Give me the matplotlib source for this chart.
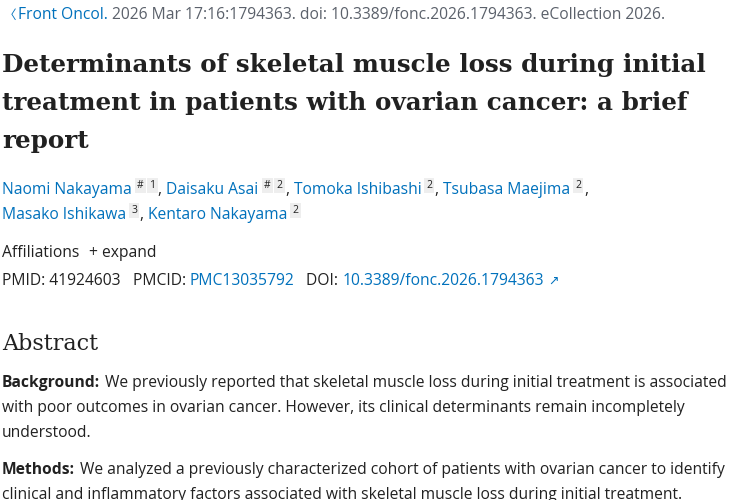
import matplotlib
matplotlib.use("Agg")
import matplotlib.pyplot as plt

BLUE = "#0071bc"
GRAY = "#5b616b"
DARK = "#212121"
SANS = "Open Sans"
SERIF = "DejaVu Serif"

citation = ["Front Oncol.", " 2026 Mar 17:16:1794363. doi: 10.3389/fonc.2026.1794363. eCollection 2026."]
title_lines = ["Determinants of skeletal muscle loss during initial",
               "treatment in patients with ovarian cancer: a brief",
               "report"]
authors1 = [("Naomi Nakayama", "# 1"), ("Daisaku Asai", "# 2"), ("Tomoka Ishibashi", "2"), ("Tsubasa Maejima", "2")]
authors2 = [("Masako Ishikawa", "3"), ("Kentaro Nakayama", "2")]
ids = [("PMID: 41924603", DARK), ("   PMCID: ", DARK), ("PMC13035792", BLUE),
       ("   DOI: ", DARK), ("10.3389/fonc.2026.1794363", BLUE)]
background = ["We previously reported that skeletal muscle loss during initial treatment is associated",
              "with poor outcomes in ovarian cancer. However, its clinical determinants remain incompletely",
              "understood."]
methods = ["We analyzed a previously characterized cohort of patients with ovarian cancer to identify",
           "clinical and inflammatory factors associated with skeletal muscle loss during initial treatment."]

W, H = 750, 500
fig = plt.figure(figsize=(7.5, 5), dpi=100)
fig.patch.set_facecolor("white")
r = fig.canvas.get_renderer()

def put(x, y, s, size, color=DARK, family=SANS, weight="normal", **kw):
    t = fig.text(x / W, 1 - y / H, s, fontsize=size, color=color, family=family,
                 weight=weight, va="baseline", ha="left", **kw)
    bb = t.get_window_extent(r)
    return x + bb.width

def fit(s, family, weight, target):
    t = fig.text(0, 0, s, fontsize=10, family=family, weight=weight)
    w = t.get_window_extent(r).width
    t.remove()
    return 10 * target / w

def run(x, y, segs, size):
    for s, c in segs:
        x = put(x, y, s, size, c)
    return x

BODY = fit(background[1], SANS, "normal", 684)
TSIZE = fit(title_lines[0], SERIF, "bold", 706)

put(4, 19, "〈", 9, BLUE, family=["Noto Sans CJK SC", "DejaVu Sans"])
run(18, 19, [(citation[0], BLUE), (citation[1], GRAY)], BODY)

for i, line in enumerate(title_lines):
    put(2, 72 + 38 * i, line, TSIZE, DARK, family=SERIF, weight="bold")

def authors(y, lst, trailing):
    x = 2
    for i, (name, sup) in enumerate(lst):
        if i > 0:
            x = put(x, y, ", ", BODY, DARK)
        x = put(x, y, name, BODY, BLUE)
        x += 5
        parts = sup.split()
        for j, part in enumerate(parts):
            t = fig.text(x / W, 1 - (y - 6) / H, part, fontsize=7.5, color=DARK, family=SANS,
                         va="baseline", ha="left",
                         bbox=dict(boxstyle="square,pad=0.2", fc="#eeeeee", ec="none"))
            x += t.get_window_extent(r).width + (6 if j < len(parts) - 1 else 3)
    if trailing:
        put(x, y, ",", BODY, DARK)

authors(194, authors1, True)
authors(219, authors2, False)

x = put(2, 257, "Affiliations", BODY, DARK)
put(x + 10, 257, "+ expand", BODY, DARK)
x = run(2, 285, ids, BODY)
put(x + 4, 285, "↗", 9, BLUE, family="DejaVu Sans")

put(2, 350, "Abstract", 16, DARK, family=SERIF)

def para(y, head, lines):
    x = put(2, y, head, BODY, DARK, weight="bold")
    for i, l in enumerate(lines):
        put(x + 5 if i == 0 else 2, y + 25 * i, l, BODY, DARK)

para(387, "Background:", background)
para(474, "Methods:", methods)

fig.savefig("out.png", dpi=100, facecolor="white")
